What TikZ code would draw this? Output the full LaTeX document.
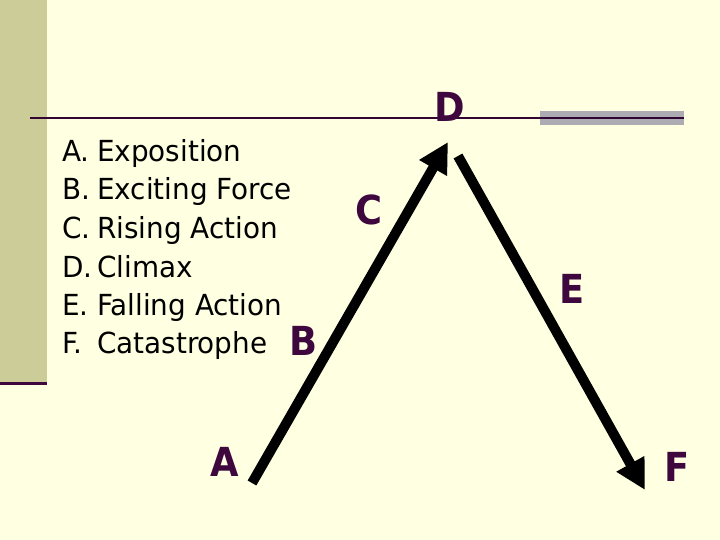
\documentclass[tikz,border=0pt]{standalone}
\usepackage{fontspec}
\setmainfont{DejaVu Sans}
\newfontfamily\listfont[FakeStretch=0.96]{DejaVu Sans}
\newfontfamily\markfont[FakeStretch=0.92]{DejaVu Sans}
\usetikzlibrary{arrows.meta}
\definecolor{slidebg}{RGB}{255,255,225}
\definecolor{sidebar}{RGB}{204,204,153}
\definecolor{plum}{RGB}{62,8,62}
\definecolor{rulegray}{RGB}{172,172,178}
\tikzset{
  plotmark/.style={text=plum, inner sep=0pt, font=\markfont\bfseries\fontsize{40}{40}\selectfont},
  listitem/.style={anchor=base west, inner sep=0pt, font=\listfont\fontsize{29}{29}\selectfont},
  plotarrow/.style={line width=10pt, -{Triangle[length=30pt, width=30pt]}}
}
\begin{document}
\begin{tikzpicture}[x=1pt, y=-1pt]
\fill[slidebg] (0,0) rectangle (720,540);
\useasboundingbox (0,0) rectangle (720,540);
% side bar and rules
\fill[sidebar] (0,0) rectangle (47,383);
\draw[plum, line width=3pt] (0,383)--(47,383);
\fill[rulegray] (540,111) rectangle (684,125);
\draw[plum!80!black, line width=1.3pt] (30,118)--(684,118);

% list of parts
\foreach \y/\letter/\xtext in {162/A./Exposition, 200/B./Exciting Force, 238/C./Rising Action,
    277/D./Climax, 315/E./Falling Action, 353/F./Catastrophe}
{
    \node[listitem] (l\y) at (62,\y) {\letter};
    \node[listitem] (t\y) at (97,\y) {\xtext};
}

% plot
\coordinate (riseA) at (252,483);
\coordinate (riseD) at (448,142);
\coordinate (fallD) at (458,156);
\coordinate (fallF) at (645,490);
\draw[plotarrow] (riseA)--(riseD);
\draw[plotarrow] (fallD)--(fallF);

\node[plotmark] (A) at (225,462) {A};
\node[plotmark] (B) at (304,341) {B};
\node[plotmark] (C) at (369,210) {C};
\node[plotmark] (D) at (450,107) {D};
\node[plotmark] (E) at (572,289) {E};
\node[plotmark] (F) at (677,467) {F};
\end{tikzpicture}
\end{document}
